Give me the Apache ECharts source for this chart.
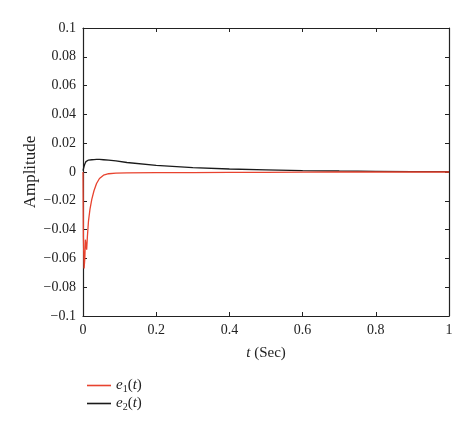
<!DOCTYPE html>
<html>
<head>
<meta charset="utf-8">
<script src="https://cdn.jsdelivr.net/npm/echarts@6/dist/echarts.min.js"></script>
<style>html,body{margin:0;padding:0;background:#fff;}#c{width:474px;height:430px;}</style>
</head>
<body>
<div id="c"></div>
<script>
var t  = [0, 0.001, 0.003, 0.005, 0.0065, 0.008, 0.010, 0.012, 0.015, 0.019, 0.024, 0.030, 0.037, 0.045, 0.056, 0.07, 0.09, 0.12, 0.2, 0.3, 0.4, 0.5, 0.6, 0.7, 0.8, 0.9, 1.0];
var e1 = [0, -0.045, -0.067, -0.060, -0.047, -0.050, -0.054, -0.045, -0.034, -0.026, -0.019, -0.013, -0.008, -0.0045, -0.0022, -0.0012, -0.0008, -0.0006, -0.0005, -0.0004, -0.0003, -0.0002, -0.0001, 0, 0, 0, 0];
var e2 = [0.001, 0.002, 0.004, 0.0055, 0.0065, 0.0072, 0.0078, 0.0081, 0.0083, 0.0084, 0.0085, 0.0086, 0.0087, 0.0087, 0.0085, 0.0082, 0.0077, 0.0066, 0.0046, 0.0030, 0.0021, 0.0015, 0.0010, 0.0007, 0.0005, 0.0003, 0.0002];
var seriesNames = ['e1', 'e2'];
var legendLabels = {e1: '{i|e}{s|1}{n|(}{i|t}{n|)}', e2: '{i|e}{s|2}{n|(}{i|t}{n|)}'};
var xName = '{i|t}{n| (Sec)}';
var yName = 'Amplitude';

var FONT = 'Liberation Serif';
var rich = {
  i: {fontFamily: FONT, fontStyle: 'italic', fontSize: 15, color: '#222', lineHeight: 17},
  n: {fontFamily: FONT, fontSize: 15, color: '#222', lineHeight: 17},
  s: {fontFamily: FONT, fontSize: 10, color: '#222', lineHeight: 11, verticalAlign: 'bottom'}
};
function fmt(v) {
  var s = String(+v.toFixed(2));
  return s.replace('-', '\u2212');
}
var chart = echarts.init(document.getElementById('c'), null, {renderer: 'canvas'});
var axisCommon = {
  axisLine: {show: true, onZero: false, lineStyle: {color: '#222', width: 1.2}},
  axisTick: {show: true, inside: true, length: 4, lineStyle: {color: '#222', width: 1}},
  splitLine: {show: false}
};
chart.setOption({
  animation: false,
  backgroundColor: '#fff',
  grid: {left: 83, right: 25, top: 28, bottom: 114, containLabel: false},
  legend: {
    orient: 'vertical', left: 82, top: 373, itemWidth: 24, itemHeight: 1.6, itemGap: 2,
    icon: 'rect',
    data: seriesNames,
    formatter: function (n) { return legendLabels[n]; },
    textStyle: {fontFamily: FONT, fontSize: 15, color: '#222', rich: rich}
  },
  xAxis: [
    Object.assign({}, axisCommon, {
      type: 'value', min: 0, max: 1, interval: 0.2, position: 'bottom',
      name: xName, nameLocation: 'middle', nameGap: 29, nameMoveOverlap: false,
      nameTextStyle: {fontFamily: FONT, fontSize: 15, color: '#222', rich: rich},
      axisLabel: {fontFamily: FONT, fontSize: 14, color: '#222', margin: 7, formatter: fmt}
    }),
    Object.assign({}, axisCommon, {
      type: 'value', min: 0, max: 1, interval: 0.2, position: 'top',
      axisLabel: {show: false}
    })
  ],
  yAxis: [
    Object.assign({}, axisCommon, {
      type: 'value', min: -0.1, max: 0.1, interval: 0.02, position: 'left',
      name: yName, nameLocation: 'middle', nameGap: 44, nameMoveOverlap: false,
      nameTextStyle: {fontFamily: FONT, fontSize: 17, color: '#222'},
      axisLabel: {fontFamily: FONT, fontSize: 14, color: '#222', margin: 7, formatter: fmt}
    }),
    Object.assign({}, axisCommon, {
      type: 'value', min: -0.1, max: 0.1, interval: 0.02, position: 'right',
      axisLabel: {show: false}
    })
  ],
  series: [
    {
      name: 'e1', type: 'line', xAxisIndex: 0, yAxisIndex: 0, symbol: 'none',
      lineStyle: {color: '#e8432f', width: 1.3}, itemStyle: {color: '#e8432f'},
      data: t.map(function (x, i) { return [x, e1[i]]; }), z: 3
    },
    {
      name: 'e2', type: 'line', xAxisIndex: 0, yAxisIndex: 0, symbol: 'none',
      lineStyle: {color: '#1a1a1a', width: 1.3}, itemStyle: {color: '#1a1a1a'},
      data: t.map(function (x, i) { return [x, e2[i]]; }), z: 2
    }
  ]
});
</script>
</body>
</html>
